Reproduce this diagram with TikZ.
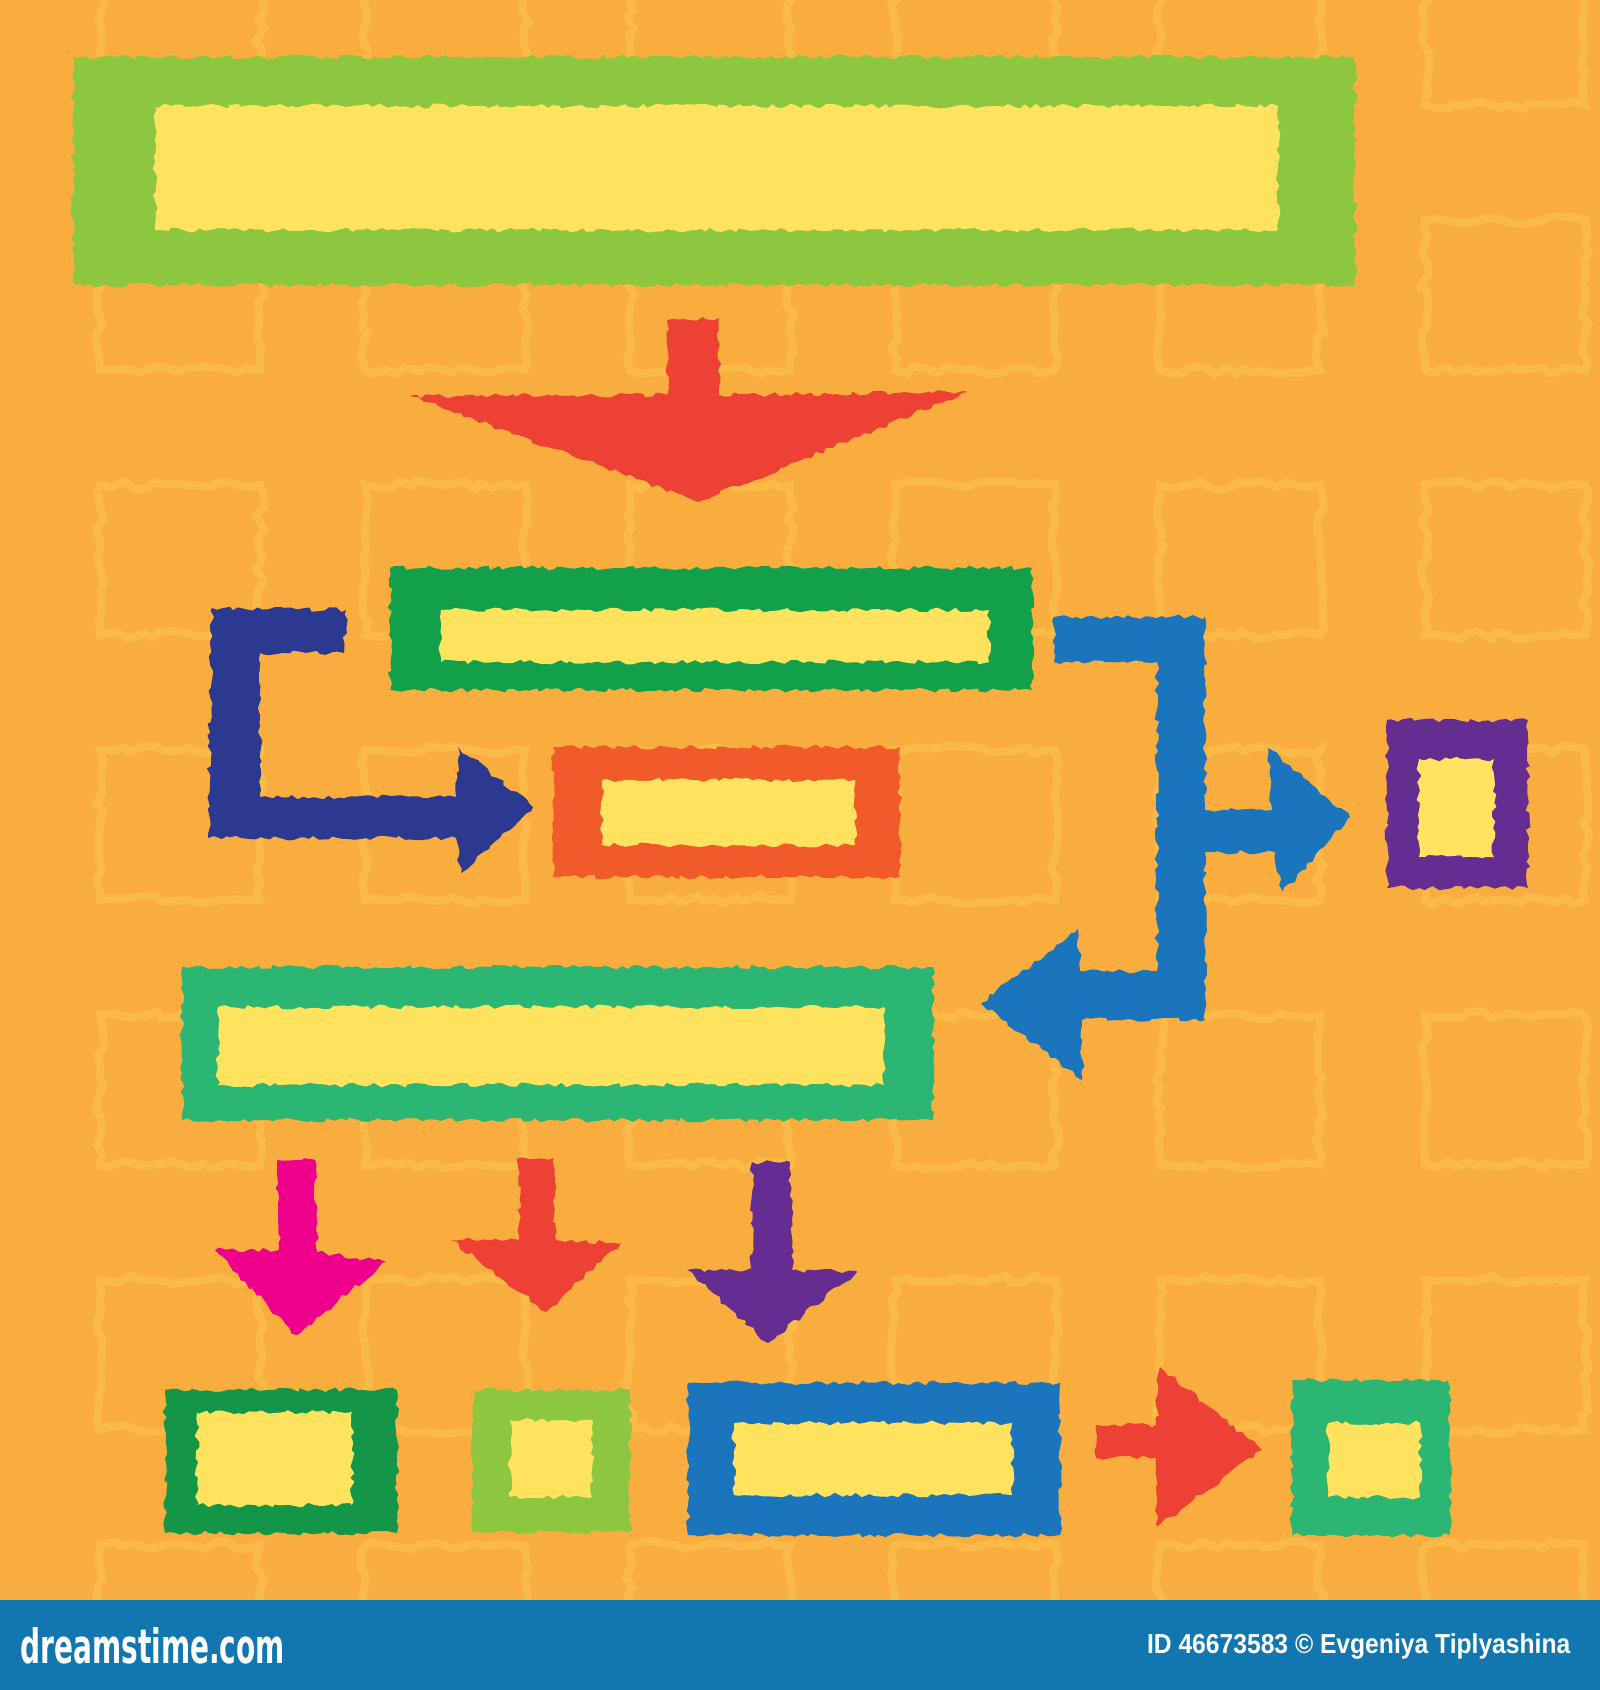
\documentclass[tikz,border=0pt]{standalone}
\usepackage{fontspec}
\usetikzlibrary{fit,decorations.pathmorphing}
\newfontfamily\footfont{Liberation Sans}
\newfontfamily\logofont{DejaVu Sans}
\definecolor{bg}{HTML}{F9AD3F}
\definecolor{bgline}{HTML}{FBB948}
\definecolor{cYellow}{HTML}{FFE35E}
\definecolor{cLGreen}{HTML}{8DC63F}
\definecolor{cGreen}{HTML}{12A14A}
\definecolor{cDGreen}{HTML}{139647}
\definecolor{cTeal}{HTML}{2BB673}
\definecolor{cRed}{HTML}{EE4136}
\definecolor{cOrange}{HTML}{F15A29}
\definecolor{cNavy}{HTML}{2B3990}
\definecolor{cBlue}{HTML}{1B75BC}
\definecolor{cPurple}{HTML}{662D91}
\definecolor{cMagenta}{HTML}{EC008C}
\definecolor{cFoot}{HTML}{1277B0}
\begin{document}
\begin{tikzpicture}[x=0.01cm,y=-0.01cm,
  rough/.style={decorate,decoration={random steps,segment length=1.6pt,amplitude=0.7pt}},
  frame/.style={rough,inner sep=0pt,outer sep=0pt,fill=#1},
  hole/.style={rough,inner sep=0pt,outer sep=0pt,fill=cYellow},
  gridsq/.style={draw=bgline,line width=0.08cm,decorate,decoration={random steps,segment length=3pt,amplitude=1.2pt}}]
\pgfmathsetseed{7}
\useasboundingbox (0,0) rectangle (1600,1690);
\fill[bg] (0,0) rectangle (1600,1600);
% faint background squares
\begin{scope}
\clip (0,0) rectangle (1600,1600);
\foreach \gx in {100,365,630,895,1160,1425}{
  \foreach \gy in {-45,220,485,750,1015,1280,1545}{
    \draw[gridsq] (\gx,\gy) rectangle ++(160,150);
  }
}
\end{scope}
% footer
\fill[cFoot] (0,1600) rectangle (1600,1690);
\node[anchor=base west,inner sep=0pt,text=white] (logo) at (20,1663)
  {\resizebox{2.64cm}{\height}{\logofont\bfseries\fontsize{13.5}{14}\selectfont dreamstime.com}};
\node[anchor=base east,inner sep=0pt,text=white] (credit) at (1571,1653)
  {\resizebox{4.23cm}{\height}{\footfont\bfseries\fontsize{7.8}{9}\selectfont ID 46673583 \textcopyright\ Evgeniya Tiplyashina}};

% boxes
\node[frame=cLGreen, fit={(73,57) (1355,285)}] (top) {};
\node[hole, fit={(155,106) (1278,230)}] (topin) {};

\node[frame=cGreen, fit={(390,568) (1032,690)}] (mid) {};
\node[hole, fit={(441,610) (989,662)}] (midin) {};

\node[frame=cOrange, fit={(553,747) (900,877)}] (orb) {};
\node[hole, fit={(602,780) (855,845)}] (orbin) {};

\node[frame=cPurple, fit={(1387,720) (1528,888)}] (pur) {};
\node[hole, fit={(1419,759) (1494,857)}] (purin) {};

\node[frame=cTeal, fit={(182,967) (933,1120)}] (low) {};
\node[hole, fit={(218,1007) (884,1085)}] (lowin) {};

\node[frame=cDGreen, fit={(165,1390) (397,1533)}] (b1) {};
\node[hole, fit={(197,1412) (352,1505)}] (b1in) {};

\node[frame=cLGreen, fit={(473,1390) (630,1532)}] (b2) {};
\node[hole, fit={(510,1420) (592,1497)}] (b2in) {};

\node[frame=cBlue, fit={(688,1383) (1060,1535)}] (b3) {};
\node[hole, fit={(734,1423) (1012,1495)}] (b3in) {};

\node[frame=cTeal, fit={(1292,1380) (1450,1535)}] (b4) {};
\node[hole, fit={(1328,1423) (1420,1497)}] (b4in) {};

% arrows
\fill[rough,cRed] (667,320) -- (719,318) -- (719,395) -- (968,392) -- (698,502) -- (410,396) -- (667,395) -- cycle;

\fill[rough,cNavy] (212,608) -- (346,610) -- (344,653) -- (260,653) -- (260,797) -- (456,797) -- (458,747) -- (533,807) -- (461,873) -- (456,838) -- (208,838) -- cycle;

\fill[rough,cBlue] (1054,617) -- (1205,617) -- (1205,810) -- (1272,810) -- (1268,748) -- (1350,817) -- (1283,892) -- (1275,852) -- (1205,852) -- (1205,1020) -- (1082,1020) -- (1082,1080) -- (981,1003) -- (1078,929) -- (1080,971) -- (1157,971) -- (1157,662) -- (1054,662) -- cycle;

\fill[rough,cMagenta] (277,1160) -- (315,1160) -- (317,1252) -- (386,1262) -- (296,1335) -- (215,1250) -- (279,1250) -- cycle;
\fill[rough,cRed] (519,1158) -- (554,1158) -- (556,1240) -- (621,1243) -- (546,1312) -- (451,1240) -- (519,1240) -- cycle;
\fill[rough,cPurple] (752,1162) -- (790,1162) -- (792,1270) -- (857,1272) -- (768,1343) -- (687,1270) -- (752,1270) -- cycle;

\fill[rough,cRed] (1096,1425) -- (1156,1425) -- (1160,1367) -- (1262,1450) -- (1157,1527) -- (1156,1458) -- (1096,1458) -- cycle;
\end{tikzpicture}
\end{document}
